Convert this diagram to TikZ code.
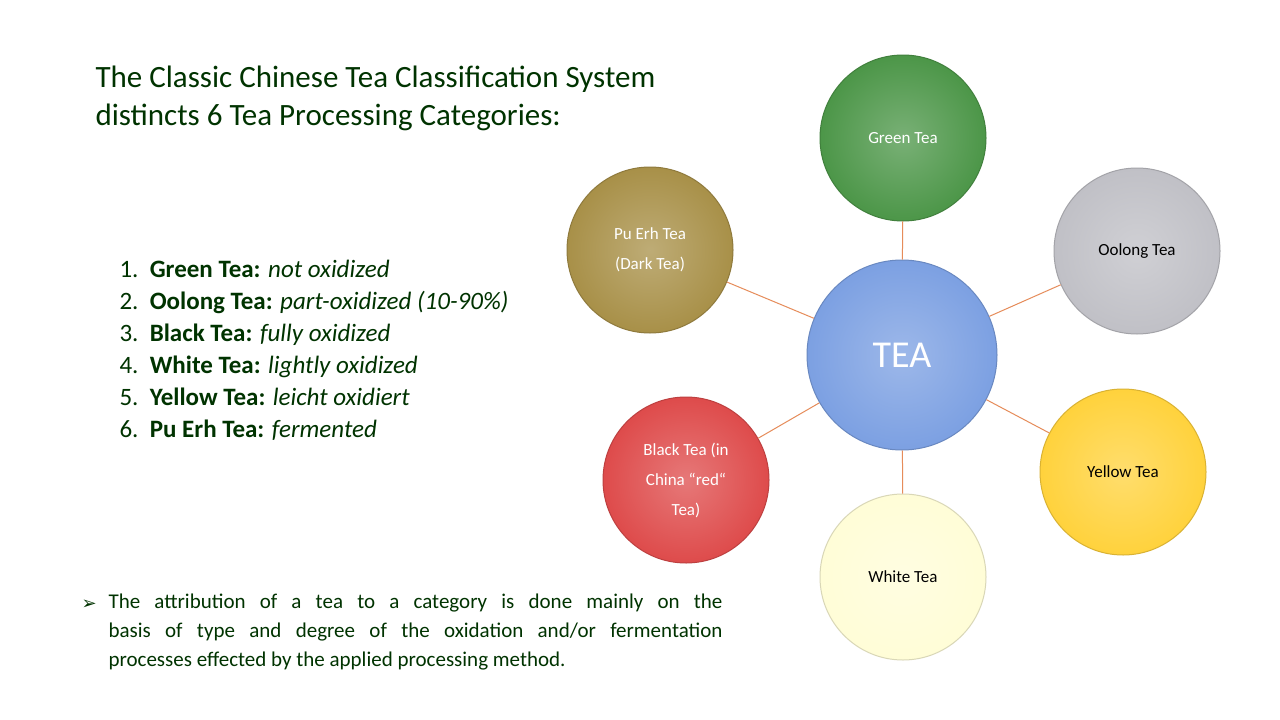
\documentclass[tikz,border=0pt]{standalone}
\usepackage{fontspec}
\setmainfont{Carlito}
\newfontfamily\symf{DejaVu Sans}
\definecolor{tgreen}{RGB}{0,51,0}
\definecolor{cgreen}{RGB}{76,150,72}
\definecolor{cgray}{RGB}{192,192,198}
\definecolor{cyellow}{RGB}{255,210,60}
\definecolor{cwhite}{RGB}{255,253,215}
\definecolor{cred}{RGB}{222,75,75}
\definecolor{cbrown}{RGB}{168,144,72}
\definecolor{cblue}{RGB}{124,160,226}
\definecolor{clink}{RGB}{230,140,90}
\begin{document}
\begin{tikzpicture}[x=1pt,y=-1pt,
  ball/.style={circle,minimum size=166pt,inner sep=0pt,align=center,font=\fontsize{17}{30}\selectfont,draw=#1!85!black,line width=1pt,inner color=#1!75!white,outer color=#1},
  link/.style={draw=clink,line width=1pt}]
\useasboundingbox[fill=white] (0,0) rectangle (1280,720);
\node[anchor=west,align=left,text=tgreen,font=\fontsize{31}{38}\selectfont] (title) at (92,98) {The Classic Chinese Tea Classification System\\distincts 6 Tea Processing Categories:};
\node[anchor=north west,align=left,text=tgreen,font=\fontsize{25}{32}\selectfont] (list) at (116,257) {%
1.\ \ \textbf{Green Tea:} \textit{not oxidized}\\
2.\ \ \textbf{Oolong Tea:} \textit{part-oxidized (10-90\%)}\\
3.\ \ \textbf{Black Tea:} \textit{fully oxidized}\\
4.\ \ \textbf{White Tea:} \textit{lightly oxidized}\\
5.\ \ \textbf{Yellow Tea:} \textit{leicht oxidiert}\\
6.\ \ \textbf{Pu Erh Tea:} \textit{fermented}};
\node[anchor=west,text=tgreen,font=\symf\fontsize{18}{18}\selectfont] (bul) at (78,605) {➢};
\node[anchor=north west,text width=614pt,align=justify,text=tgreen,font=\fontsize{21}{29}\selectfont] (note) at (105,590) {The attribution of a tea to a category is done mainly on the\linebreak basis of type and degree of the oxidation and/or fermentation\linebreak processes effected by the applied processing method.};
\node[ball=cgreen,text=white] (g) at (903,138) {Green Tea};
\node[ball=cgray,text=black] (o) at (1137,251) {Oolong Tea};
\node[ball=cyellow,text=black] (y) at (1123,472) {Yellow Tea};
\node[ball=cwhite,text=black] (w) at (903,577) {White Tea};
\node[ball=cred,text=white] (b) at (686,480) {Black Tea (in\\China “red“\\Tea)};
\node[ball=cbrown,text=white] (p) at (650,250) {Pu Erh Tea\\(Dark Tea)};
\node[ball=cblue,minimum size=190pt,text=white,font=\fontsize{38}{40}\selectfont] (t) at (902,355) {TEA};
\foreach \n in {g,o,y,w,b,p} \draw[link] (t) -- (\n);
\end{tikzpicture}
\end{document}
